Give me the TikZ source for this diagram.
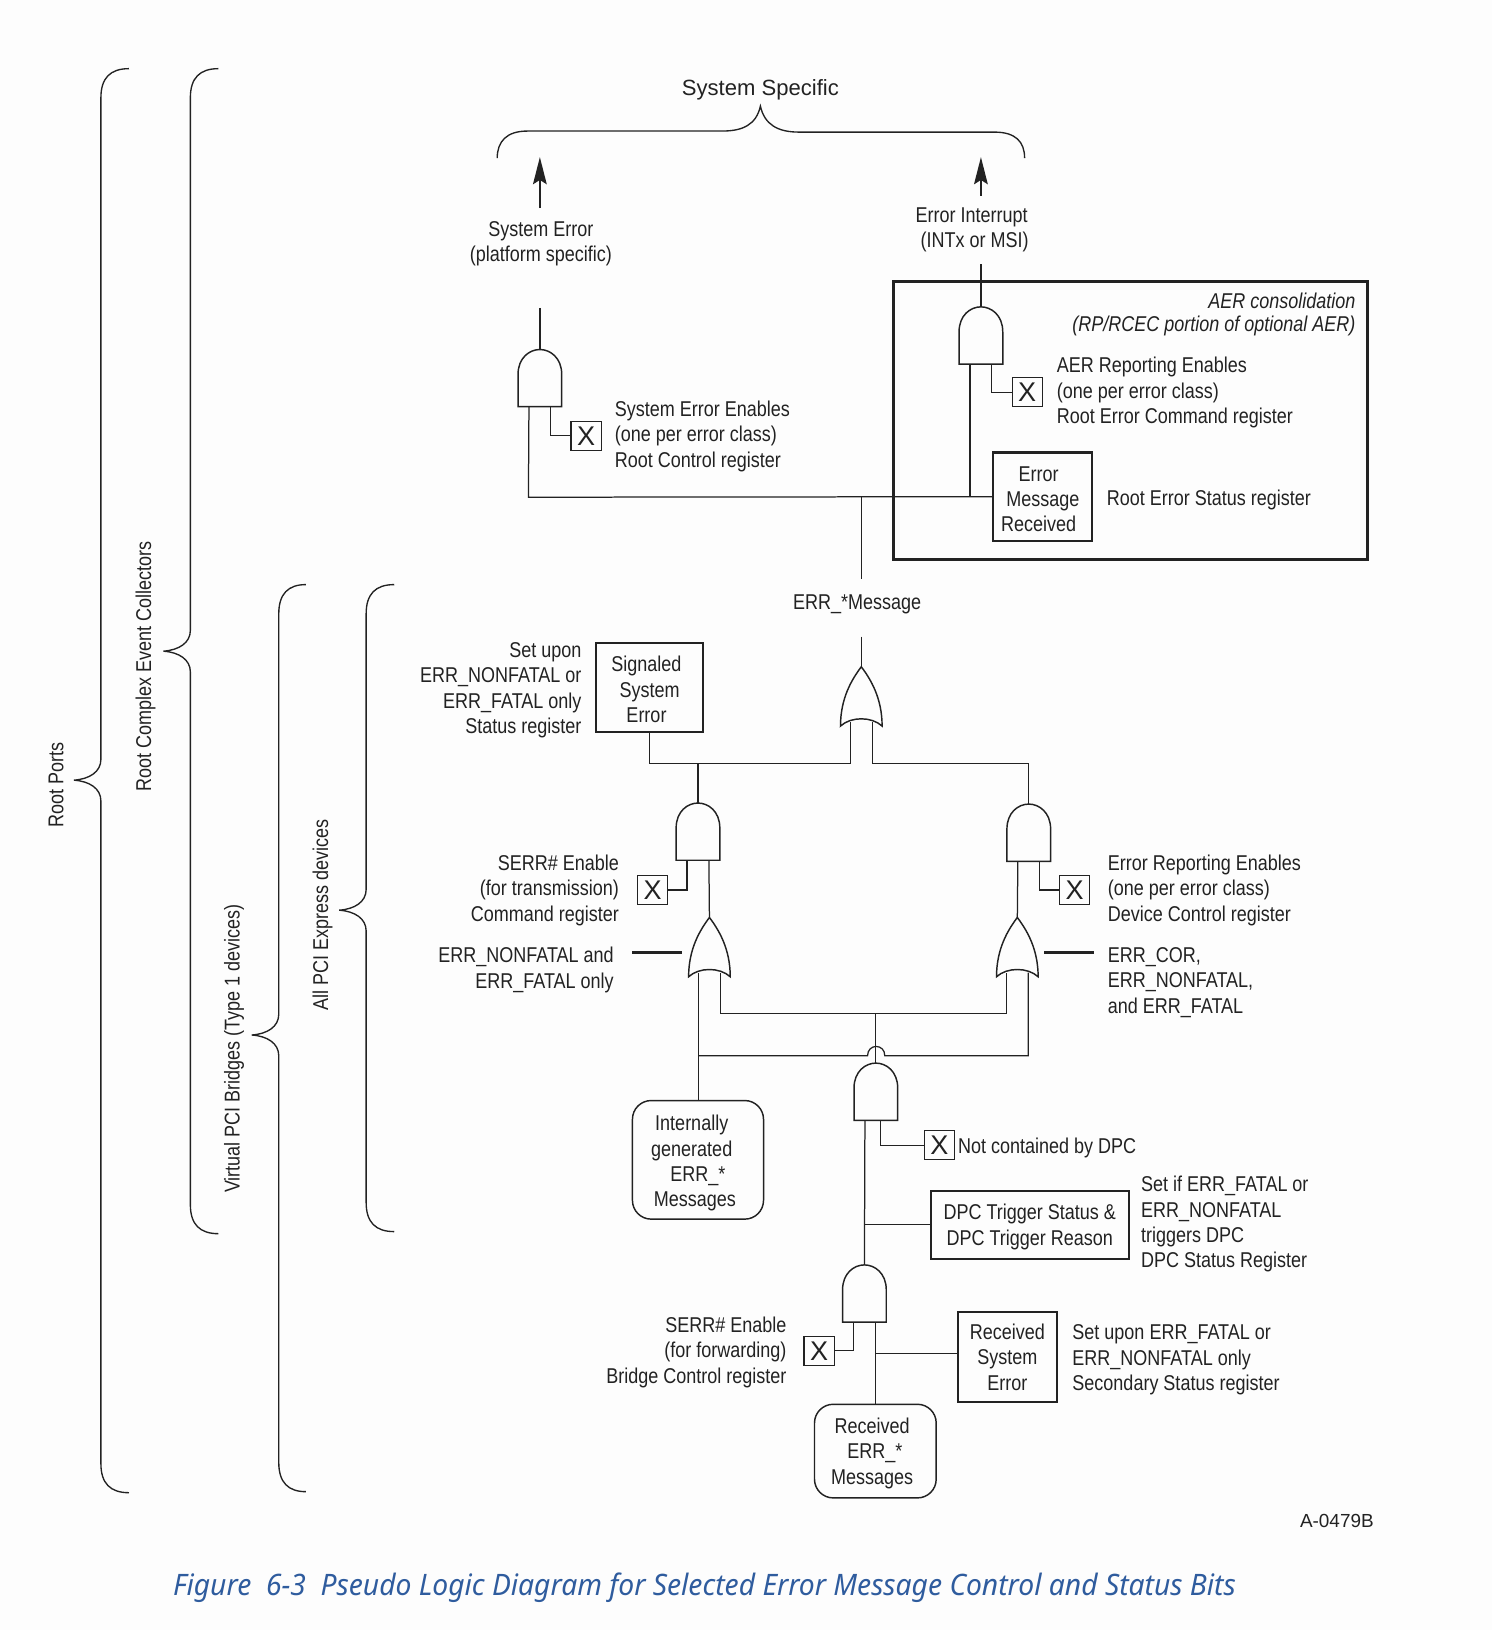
\documentclass[tikz,border=0pt]{standalone}
\usepackage{fontspec}
\usetikzlibrary{arrows.meta,calc}
\newfontfamily\condf[FakeStretch=0.84]{Liberation Sans}
\newfontfamily\normf{Liberation Sans}
\newfontfamily\capf[FakeStretch=0.956]{Noto Sans}
\definecolor{ink}{HTML}{222222}
\definecolor{capblue}{HTML}{2F5C9E}
\definecolor{paper}{HTML}{FDFDFD}
\newcommand{\tp}{\rule{0pt}{9.5pt}}
\tikzset{
  lbl/.style={inner sep=0pt,outer sep=0pt,yshift=-1pt,text=ink,font=\condf\fontsize{10.3}{12.2}\selectfont},
  lblL/.style={lbl,anchor=west,align=left},
  lblR/.style={lbl,anchor=east,align=right},
  lblC/.style={lbl,align=center},
  wire/.style={draw=ink,line width=0.6pt},
  bus/.style={draw=ink,line width=1.3pt},
  gateshape/.style={draw=ink,line width=0.7pt,fill=paper},
  bracepath/.style={draw=ink,line width=0.65pt},
  regbox/.style={draw=ink,line width=1pt,inner sep=0pt,outer sep=0pt,fill=paper,align=center,text=ink,font=\condf\fontsize{10.3}{12.2}\selectfont},
  roundbox/.style={regbox,line width=0.7pt,rounded corners=9pt},
  xbox/.style={draw=ink,line width=0.6pt,inner sep=0pt,outer sep=0pt,fill=paper,minimum width=14.5pt,minimum height=14pt,text=ink,font=\normf\fontsize{13}{13}\selectfont},
  gatenode/.style={inner sep=0pt,outer sep=0pt,minimum width=21pt,minimum height=27.5pt},
  tipped/.style={bus,-{Stealth[length=13pt,width=6.5pt,inset=2pt]}},
}
% AND gate: name, centre x, top y
\newcommand{\andgate}[3]{%
  \node[gatenode] (#1) at (#2,{#3+27.5}) {};
  \coordinate (#1-top) at (#2,#3);
  \coordinate (#1-l) at ({#2-10.5},{#3+55});
  \coordinate (#1-r) at ({#2+10.5},{#3+55});
  \path[gateshape] ({#2-21},{#3+55}) -- ({#2-21},{#3+24})
    .. controls ({#2-21},{#3+8}) and ({#2-10},#3) .. (#2,#3)
    .. controls ({#2+10},#3) and ({#2+21},{#3+8}) .. ({#2+21},{#3+24})
    -- ({#2+21},{#3+55}) -- cycle;
}
% OR gate: name, centre x, tip y
\newcommand{\orgate}[3]{%
  \node[gatenode] (#1) at (#2,{#3+27.5}) {};
  \coordinate (#1-top) at (#2,#3);
  \coordinate (#1-l) at ({#2-10.5},{#3+53});
  \coordinate (#1-r) at ({#2+10.5},{#3+53});
  \path[gateshape] ({#2-20},{#3+57})
    .. controls ({#2-20},{#3+30}) and ({#2-9},{#3+12}) .. (#2,#3)
    .. controls ({#2+9},{#3+12}) and ({#2+20},{#3+30}) .. ({#2+20},{#3+57})
    .. controls ({#2+10},{#3+47.7}) and ({#2-10},{#3+47.7}) .. ({#2-20},{#3+57}) -- cycle;
}
% Left-opening brace: x of spine, end x, top y, tip y, bottom y
\newcommand{\sidebrace}[5]{%
  \path[bracepath] (#2,#3) .. controls ({#1+9},#3) and (#1,{#3+9}) .. (#1,{#3+28})
    -- (#1,{#4-20}) .. controls (#1,{#4-8}) and ({#1-11},{#4-1}) .. ({#1-26},#4)
    .. controls ({#1-11},{#4+1}) and (#1,{#4+8}) .. (#1,{#4+20})
    -- (#1,{#5-28}) .. controls (#1,{#5-9}) and ({#1+9},#5) .. (#2,#5);
}
\begin{document}
\begin{tikzpicture}[x=0.5pt,y=-0.5pt]
\useasboundingbox (1,0) rectangle (1435,1567);
\fill[paper] (1,0) rectangle (1435,1567);

% side braces
\sidebrace{98}{125}{66}{750}{1435}
\sidebrace{184}{211}{66}{626}{1186}
\sidebrace{269}{295}{562}{995}{1434}
\sidebrace{353}{380}{562}{875}{1184}
\node[lbl,rotate=90] (rootports) at (55,753) {Root Ports};
\node[lbl,rotate=90] (rcec) at (141,639) {Root Complex Event Collectors};
\node[lbl,rotate=90] (vbridges) at (226,1006) {Virtual PCI Bridges (Type 1 devices)};
\node[lbl,rotate=90] (allpci) at (311,878) {All PCI Express devices};

% top brace
\path[bracepath] (479,152) .. controls (479,136) and (488,126) .. (508,126)
  -- (695,126) .. controls (715,126) and (728,120) .. (732,102)
  .. controls (736,120) and (749,127) .. (769,127)
  -- (957,127) .. controls (977,127) and (986,136) .. (986,152);
\node[inner sep=0pt,text=ink,font=\normf\fontsize{10.6}{13}\selectfont] (syss) at (732,86.5) {System Specific};

% AER frame
\draw[ink,line width=1.5pt] (860,271) rectangle (1316,538);

% registers
\node[regbox,minimum width=47.5pt,minimum height=42.5pt] (emr) at (1003.5,477.5) {\tp Error\hspace*{4pt}\\Message\hspace*{4pt}\\Received\hspace*{4pt}};
\node[regbox,minimum width=51.5pt,minimum height=43pt] (sse) at (625.5,661) {\tp Signaled\hspace*{3pt}\\System\hspace*{3pt}\\Error\hspace*{3pt}};
\node[regbox,minimum width=95pt,minimum height=32.5pt] (dpc) at (991,1177.5) {\tp DPC Trigger Status \&\\DPC Trigger Reason};
\node[regbox,minimum width=47.5pt,minimum height=43pt] (rse) at (969.5,1304.5) {Received\\System\\Error};
\node[roundbox,minimum width=63pt,minimum height=57pt] (iem) at (672,1115) {\phantom{x}};
\node[roundbox,minimum width=58.5pt,minimum height=45pt] (rem) at (842.5,1395) {\phantom{x}};

% X boxes
\node[xbox] (x1) at (564.5,419) {X};
\node[xbox] (x2) at (988.5,377) {X};
\node[xbox] (x3) at (628.5,855.5) {X};
\node[xbox] (x4) at (1034,855.5) {X};
\node[xbox] (x5) at (904,1101) {X};
\node[xbox] (x6) at (788.5,1298.5) {X};

% junction coordinates
\coordinate (busw) at (509,478);
\coordinate (busj) at (829,478);
\coordinate (msgstop) at (829,557);
\coordinate (msgstart) at (829,612);
\coordinate (sysout) at (520,296);
\coordinate (sysin) at (520,200);
\coordinate (sysarrow) at (520,151);
\coordinate (intout) at (944,254);
\coordinate (intin) at (944,188);
\coordinate (intarrow) at (944,151);
\coordinate (barY) at (0,734);
\coordinate (midY) at (0,974);
\coordinate (lowY) at (0,1015);
\coordinate (midJ) at (843,974);
\coordinate (dpcen) at (847.5,1077);
\coordinate (rsetap) at (922,1301);
\coordinate (tickLa) at (609,916);
\coordinate (tickLb) at (657,916);
\coordinate (tickRa) at (1005,916);
\coordinate (tickRb) at (1053,916);

% gates
\andgate{gsys}{520}{336}
\andgate{gaer}{944}{295}
\orgate{gmsg}{829}{641}
\andgate{gserr}{672}{772}
\andgate{gerr}{990}{773}
\orgate{gor1}{683}{882}
\orgate{gor2}{979}{882}
\andgate{gdpc}{843}{1022}
\andgate{gfwd}{832}{1216}

% top outputs
\draw[bus] (sysout) -- (gsys-top);
\draw[bus] (intout) -- (gaer-top);
\draw[tipped] (sysin) -- (sysarrow);
\draw[tipped] (intin) -- (intarrow);

% root bus
\draw[wire] (gsys-l) -- (busw) -- (emr.west);
\draw[wire] (gaer-l) -- (gaer-l |- emr.west);
\draw[wire] (gsys-r) |- (x1.west);
\draw[wire] (gaer-r) |- (x2.west);
\draw[wire] (busj) -- (msgstop);
\draw[wire] (msgstart) -- (gmsg-top);

% upper OR inputs
\draw[wire] (sse.south) |- (barY -| gmsg-l) -- (gmsg-l);
\draw[wire] (gmsg-r) -- (barY -| gmsg-r) -- (barY -| gerr-top) -- (gerr-top);
\draw[wire] (barY -| gserr-top) -- (gserr-top);

% SERR and error enables
\draw[wire] (gserr-l) |- (x3.east);
\draw[wire] (gserr-r) -- (gor1-top);
\draw[wire] (gerr-r) |- (x4.west);
\draw[wire] (gerr-l) -- (gor2-top);

% thick ticks
\draw[ink,line width=1.5pt] (tickLa) -- (tickLb);
\draw[ink,line width=1.5pt] (tickRa) -- (tickRb);

% lower OR inputs
\draw[wire] (gor1-l) -- (iem.north -| gor1-l);
\draw[wire] (gor1-r) |- (midY -| gor2-l) -- (gor2-l);
\draw[wire] (gor2-r) -- (lowY -| gor2-r)
  -- (851.6,1015) .. controls (851.6,1003) and (835,1003) .. (835,1015)
  -- (lowY -| gor1-l);
\draw[wire] (midJ) -- (gdpc-top);

% DPC containment
\draw[wire] (gdpc-l) -- (gfwd-top);
\draw[wire] (dpcen) |- (x5.west);
\draw[wire] (dpc.west) -- (dpc.west -| gdpc-l);

% forwarding gate
\draw[wire] (gfwd-l) |- (x6.east);
\draw[wire] (gfwd-r) -- (rem.north -| gfwd-r);
\draw[wire] (rsetap) -- (rsetap -| gfwd-r);

% labels
\node[lblC] (t1) at (521,232.5) {System Error\\(platform specific)};
\node[lblC] (t2) at (935,219) {Error Interrupt\\\hspace*{3pt}(INTx or MSI)};
\node[lbl,anchor=east,align=right,font=\condf\itshape\fontsize{10.3}{11.1}\selectfont] (t3) at (1304,300) {AER consolidation\\(RP/RCEC portion of optional AER)};
\node[lblL] (t4) at (1017,375.5) {AER Reporting Enables\\(one per error class)\\Root Error Command register};
\node[lblL] (t5) at (592,417.5) {System Error Enables\\(one per error class)\\Root Control register};
\node[lblL] (t6) at (1065,479) {Root Error Status register};
\node[lblC] (t7) at (825,579) {ERR\_*Message};
\node[lblR] (t8) at (560,661.5) {Set upon\\ERR\_NONFATAL or\\ERR\_FATAL only\\Status register};
\node[lblR] (t9) at (596,854) {SERR\# Enable\\(for transmission)\\Command register};
\node[lblL] (t10) at (1066,854) {Error Reporting Enables\\(one per error class)\\Device Control register};
\node[lblR] (t11) at (591,930.5) {ERR\_NONFATAL and\\ERR\_FATAL only};
\node[lblL] (t12) at (1066,942.5) {ERR\_COR,\\ERR\_NONFATAL,\\and ERR\_FATAL};
\node[lblC,anchor=north] (t13) at (666,1070) {Internally\\generated\\\hspace*{6pt}ERR\_*\\\hspace*{3pt}Messages};
\node[lblL] (t14) at (922,1102) {Not contained by DPC};
\node[lblL] (t15) at (1098,1175) {Set if ERR\_FATAL or\\ERR\_NONFATAL\\triggers DPC\\DPC Status Register};
\node[lblR] (t16) at (757,1298) {SERR\# Enable\\(for forwarding)\\Bridge Control register};
\node[lblL] (t17) at (1032,1305.5) {Set upon ERR\_FATAL or\\ERR\_NONFATAL only\\Secondary Status register};
\node[lblC,anchor=north] (t18) at (839.5,1361) {Received\\\hspace*{2.5pt}ERR\_*\\Messages};
\node[inner sep=0pt,anchor=east,text=ink,font=\normf\fontsize{9.1}{11}\selectfont] (t19) at (1322,1462) {A-0479B};
\node[inner sep=0pt,anchor=west,text=capblue,font=\capf\itshape\fontsize{14.2}{17}\selectfont] (cap) at (167,1526) {Figure\ \ 6-3\ \ Pseudo Logic Diagram for Selected Error Message Control and Status Bits};
\end{tikzpicture}
\end{document}
